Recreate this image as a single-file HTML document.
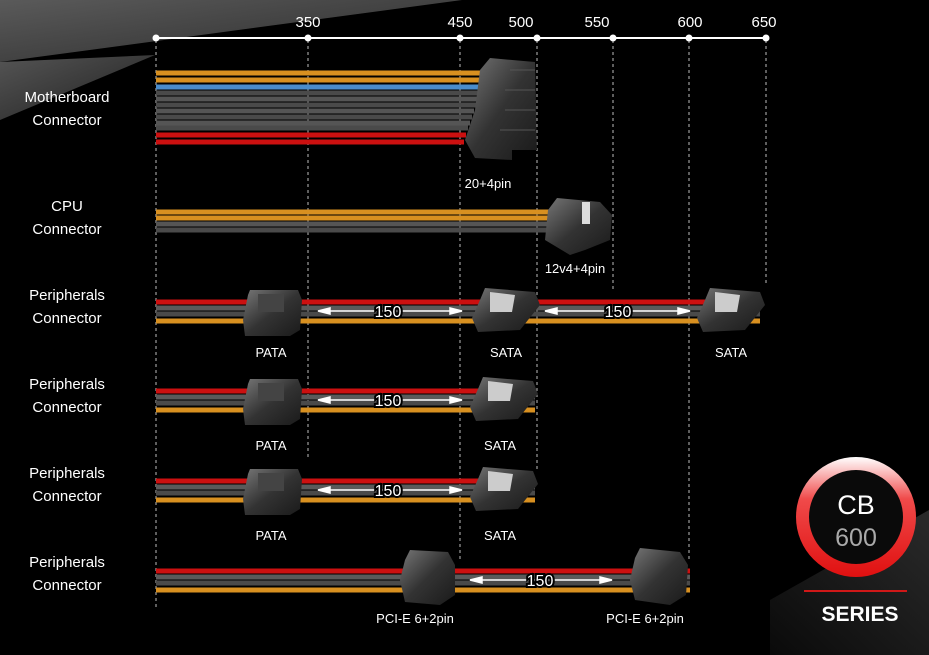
<!DOCTYPE html>
<html><head><meta charset="utf-8"><style>
html,body{margin:0;padding:0;background:#000;}
svg{display:block;font-family:"Liberation Sans",sans-serif;}
</style></head><body>
<svg width="929" height="655" viewBox="0 0 929 655" xmlns="http://www.w3.org/2000/svg">
<defs>
<linearGradient id="bg1" x1="0" y1="0" x2="1" y2="1"><stop offset="0" stop-color="#5a5a5a"/><stop offset="1" stop-color="#2a2a2a"/></linearGradient>
<linearGradient id="bg2" x1="0" y1="0" x2="1" y2="1"><stop offset="0" stop-color="#555"/><stop offset="1" stop-color="#1e1e1e"/></linearGradient>
<linearGradient id="bg3" x1="1" y1="0" x2="0" y2="1"><stop offset="0" stop-color="#2a2a2a"/><stop offset="1" stop-color="#0a0a0a"/></linearGradient>
<linearGradient id="ring" x1="0" y1="0" x2="0" y2="1"><stop offset="0" stop-color="#ffffff"/><stop offset="0.35" stop-color="#f04a4a"/><stop offset="1" stop-color="#e01010"/></linearGradient>
<linearGradient id="conn" x1="0" y1="0" x2="1" y2="1"><stop offset="0" stop-color="#777"/><stop offset="0.5" stop-color="#333"/><stop offset="1" stop-color="#1a1a1a"/></linearGradient>
</defs>
<rect width="929" height="655" fill="#000"/>
<polygon points="0,0 462,0 0,62" fill="url(#bg1)"/>
<polygon points="0,62 155,55 0,120" fill="url(#bg2)"/>
<polygon points="929,510 929,655 770,655 770,600" fill="url(#bg3)"/>

<g stroke="#bbb" stroke-width="1" stroke-dasharray="3,3">
<line x1="156" y1="40" x2="156" y2="608"/>
<line x1="308" y1="40" x2="308" y2="458"/>
<line x1="460" y1="40" x2="460" y2="560"/>
<line x1="537" y1="40" x2="537" y2="470"/>
<line x1="613" y1="40" x2="613" y2="290"/>
<line x1="689" y1="40" x2="689" y2="560"/>
<line x1="766" y1="40" x2="766" y2="285"/>
</g>
<line x1="156" y1="38" x2="766" y2="38" stroke="#fff" stroke-width="2"/>
<g fill="#fff">
<circle cx="156" cy="38" r="3.5"/><circle cx="308" cy="38" r="3.5"/><circle cx="460" cy="38" r="3.5"/><circle cx="537" cy="38" r="3.5"/><circle cx="613" cy="38" r="3.5"/><circle cx="689" cy="38" r="3.5"/><circle cx="766" cy="38" r="3.5"/>
</g>
<g fill="#fff" font-size="15" text-anchor="middle">
<text x="308" y="27">350</text><text x="460" y="27">450</text><text x="521" y="27">500</text><text x="597" y="27">550</text><text x="690" y="27">600</text><text x="764" y="27">650</text>
</g>

<g fill="#fff" font-size="15" text-anchor="middle">
<text x="67" y="102">Motherboard</text><text x="67" y="125">Connector</text>
<text x="67" y="211">CPU</text><text x="67" y="234">Connector</text>
<text x="67" y="300">Peripherals</text><text x="67" y="323">Connector</text>
<text x="67" y="389">Peripherals</text><text x="67" y="412">Connector</text>
<text x="67" y="478">Peripherals</text><text x="67" y="501">Connector</text>
<text x="67" y="567">Peripherals</text><text x="67" y="590">Connector</text>
</g>

<g stroke-width="5">
<line x1="156" y1="73" x2="485" y2="73" stroke="#d89020"/>
<line x1="156" y1="80" x2="485" y2="80" stroke="#d89020"/>
<line x1="156" y1="87" x2="482" y2="87" stroke="#4a8ccc"/>
<line x1="156" y1="93" x2="480" y2="93" stroke="#4a4a4a"/>
<line x1="156" y1="99" x2="478" y2="99" stroke="#555"/>
<line x1="156" y1="105" x2="476" y2="105" stroke="#4a4a4a"/>
<line x1="156" y1="111" x2="474" y2="111" stroke="#555"/>
<line x1="156" y1="117" x2="472" y2="117" stroke="#4a4a4a"/>
<line x1="156" y1="123" x2="470" y2="123" stroke="#555"/>
<line x1="156" y1="128" x2="468" y2="128" stroke="#4a4a4a"/>
<line x1="156" y1="135" x2="466" y2="135" stroke="#cc1010"/>
<line x1="156" y1="142" x2="464" y2="142" stroke="#cc1010"/>
</g>
<polygon points="490,58 535,62 537,150 512,150 512,160 475,158 465,140 475,110 480,70" fill="url(#conn)"/>
<g stroke="#555" fill="none"><line x1="510" y1="70" x2="535" y2="70"/><line x1="505" y1="90" x2="535" y2="90"/><line x1="505" y1="110" x2="535" y2="110"/><line x1="500" y1="130" x2="535" y2="130"/></g>
<text x="488" y="188" fill="#fff" font-size="13" text-anchor="middle">20+4pin</text>

<g stroke-width="5">
<line x1="156" y1="212" x2="552" y2="212" stroke="#d89020"/>
<line x1="156" y1="218" x2="552" y2="218" stroke="#d89020"/>
<line x1="156" y1="224" x2="550" y2="224" stroke="#555"/>
<line x1="156" y1="230" x2="548" y2="230" stroke="#4a4a4a"/>
</g>
<polygon points="557,198 600,202 612,215 610,240 585,250 570,255 545,240 548,210" fill="url(#conn)"/>
<rect x="582" y="202" width="8" height="22" fill="#ddd"/>
<text x="575" y="273" fill="#fff" font-size="13" text-anchor="middle">12v4+4pin</text>

<g stroke-width="5">
<line x1="156" y1="302" x2="760" y2="302" stroke="#cc1010"/>
<line x1="156" y1="308" x2="760" y2="308" stroke="#5a5a5a"/>
<line x1="156" y1="314" x2="760" y2="314" stroke="#4a4a4a"/>
<line x1="156" y1="321" x2="760" y2="321" stroke="#d89020"/>
</g>
<g stroke-width="5">
<line x1="156" y1="391" x2="535" y2="391" stroke="#cc1010"/>
<line x1="156" y1="397" x2="535" y2="397" stroke="#5a5a5a"/>
<line x1="156" y1="403" x2="535" y2="403" stroke="#4a4a4a"/>
<line x1="156" y1="410" x2="535" y2="410" stroke="#d89020"/>
</g>
<g stroke-width="5">
<line x1="156" y1="481" x2="535" y2="481" stroke="#cc1010"/>
<line x1="156" y1="487" x2="535" y2="487" stroke="#5a5a5a"/>
<line x1="156" y1="493" x2="535" y2="493" stroke="#4a4a4a"/>
<line x1="156" y1="500" x2="535" y2="500" stroke="#d89020"/>
</g>
<g stroke-width="5">
<line x1="156" y1="571" x2="690" y2="571" stroke="#cc1010"/>
<line x1="156" y1="577" x2="690" y2="577" stroke="#5a5a5a"/>
<line x1="156" y1="583" x2="690" y2="583" stroke="#4a4a4a"/>
<line x1="156" y1="590" x2="690" y2="590" stroke="#d89020"/>
</g>

<g stroke="#fff" stroke-width="1.5" fill="#fff">
<line x1="322" y1="311" x2="458" y2="311"/><polygon points="318,311 330,308 330,314"/><polygon points="462,311 450,308 450,314"/>
<line x1="549" y1="311" x2="686" y2="311"/><polygon points="545,311 557,308 557,314"/><polygon points="690,311 678,308 678,314"/>
<line x1="322" y1="400" x2="458" y2="400"/><polygon points="318,400 330,397 330,403"/><polygon points="462,400 450,397 450,403"/>
<line x1="322" y1="490" x2="458" y2="490"/><polygon points="318,490 330,487 330,493"/><polygon points="462,490 450,487 450,493"/>
<line x1="474" y1="580" x2="608" y2="580"/><polygon points="470,580 482,577 482,583"/><polygon points="612,580 600,577 600,583"/>
</g>
<g font-size="16" fill="#fff" text-anchor="middle" stroke="#000" stroke-width="4" paint-order="stroke">
<text x="388" y="317">150</text><text x="618" y="317">150</text><text x="388" y="406">150</text><text x="388" y="496">150</text><text x="540" y="586">150</text>
</g>

<g>
<g><polygon points="250,290 298,290 302,300 300,330 290,336 245,336 243,320 248,295" fill="url(#conn)"/><rect x="258" y="294" width="26" height="18" fill="#444"/></g>
<g transform="translate(0,89)"><polygon points="250,290 298,290 302,300 300,330 290,336 245,336 243,320 248,295" fill="url(#conn)"/><rect x="258" y="294" width="26" height="18" fill="#444"/></g>
<g transform="translate(0,179)"><polygon points="250,290 298,290 302,300 300,330 290,336 245,336 243,320 248,295" fill="url(#conn)"/><rect x="258" y="294" width="26" height="18" fill="#444"/></g>
</g>
<g>
<g><polygon points="485,288 535,292 540,305 520,330 478,332 472,318 480,300" fill="url(#conn)"/><polygon points="490,292 515,295 512,312 490,312" fill="#ccc"/></g>
<g transform="translate(-2,89)"><polygon points="485,288 535,292 540,305 520,330 478,332 472,318 480,300" fill="url(#conn)"/><polygon points="490,292 515,295 512,312 490,312" fill="#ccc"/></g>
<g transform="translate(-2,179)"><polygon points="485,288 535,292 540,305 520,330 478,332 472,318 480,300" fill="url(#conn)"/><polygon points="490,292 515,295 512,312 490,312" fill="#ccc"/></g>
<g transform="translate(225,0)"><polygon points="485,288 535,292 540,305 520,330 478,332 472,318 480,300" fill="url(#conn)"/><polygon points="490,292 515,295 512,312 490,312" fill="#ccc"/></g>
</g>
<polygon points="410,550 448,552 455,565 455,595 440,605 405,602 400,580 405,560" fill="url(#conn)"/>
<polygon points="640,548 680,552 688,565 686,595 670,605 635,600 630,580 635,558" fill="url(#conn)"/>

<g fill="#fff" font-size="13" text-anchor="middle">
<text x="271" y="357">PATA</text><text x="506" y="357">SATA</text><text x="731" y="357">SATA</text>
<text x="271" y="450">PATA</text><text x="500" y="450">SATA</text>
<text x="271" y="540">PATA</text><text x="500" y="540">SATA</text>
<text x="415" y="623">PCI-E 6+2pin</text><text x="645" y="623">PCI-E 6+2pin</text>
</g>

<circle cx="856" cy="517" r="60" fill="url(#ring)"/>
<circle cx="856" cy="517" r="47" fill="#0a0a0a"/>
<text x="856" y="514" fill="#fff" font-size="27" text-anchor="middle">CB</text>
<text x="856" y="546" fill="#aaa" font-size="25" text-anchor="middle">600</text>
<line x1="804" y1="591" x2="907" y2="591" stroke="#d01818" stroke-width="2"/>
<text x="860" y="621" fill="#fff" font-size="21" font-weight="bold" text-anchor="middle">SERIES</text>
</svg>
</body></html>
